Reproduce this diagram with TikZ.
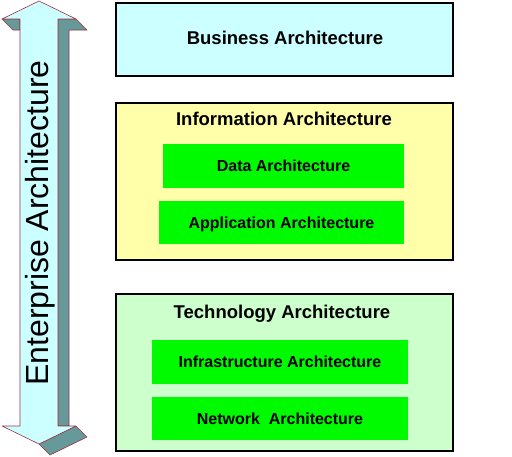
\documentclass[tikz,border=0pt]{standalone}
\usepackage{fontspec}
\setmainfont{Liberation Sans}
\usetikzlibrary{positioning}
\definecolor{bizfill}{HTML}{CCFFFF}
\definecolor{infofill}{HTML}{FFFFAA}
\definecolor{techfill}{HTML}{CCFFCC}
\definecolor{boxgreen}{HTML}{00FA00}
\definecolor{arrfront}{HTML}{CCFFFF}
\definecolor{arrside}{HTML}{669999}
\definecolor{arredge}{HTML}{993344}
\begin{document}
\begin{tikzpicture}[x=1pt,y=-1pt,
   outer/.style={rectangle,draw=black,line width=2pt,inner sep=0pt},
   inner/.style={rectangle,fill=boxgreen,inner sep=0pt,text height=11.5pt,text depth=0pt,
     font=\fontsize{16}{19}\bfseries},
   ttl/.style={anchor=base,inner sep=0pt,font=\fontsize{18.5}{22}\bfseries},
   side/.style={fill=arrside,draw=arredge,line width=0.6pt,line join=round},
   front/.style={fill=arrfront,draw=arredge,line width=0.6pt,line join=round}]
  \useasboundingbox (0,0) rectangle (512,456);
  % enterprise double arrow
  \draw[side] (2,19) -- (20,19) -- (20,30) -- (13,30) -- cycle;
  \draw[side] (58,19) -- (76,19) -- (87,30) -- (69,30) -- (69,426) -- (58,426) -- cycle;
  \draw[side] (76,426) -- (87,437) -- (50,455) -- (39,444) -- cycle;
  \draw[front] (39,1) -- (76,19) -- (58,19) -- (58,426) -- (76,426) -- (39,444)
     -- (2,426) -- (20,426) -- (20,19) -- (2,19) -- cycle;
  \node[rotate=90,anchor=base,inner sep=0pt,font=\fontsize{32}{36}\selectfont] (ea) at (48,223)
     {Enterprise Architecture};
  % layers
  \node[outer,fill=bizfill,minimum width=337pt,minimum height=73pt] (biz) at (284.5,39.5) {};
  \node[ttl] (bizt) at (285,44) {Business Architecture};
  \node[outer,fill=infofill,minimum width=337pt,minimum height=157pt] (info) at (284.5,181.5) {};
  \node[ttl] (infot) at (284,125) {Information Architecture};
  \node[inner,minimum width=241pt,minimum height=44pt] (data) at (283.5,166) {Data Architecture};
  \node[inner,minimum width=245pt,minimum height=43pt] (app) at (281.5,222.5) {Application Architecture};
  \node[outer,fill=techfill,minimum width=337pt,minimum height=157pt] (tech) at (284.5,372.5) {};
  \node[ttl] (techt) at (282,318) {Technology Architecture};
  \node[inner,minimum width=256pt,minimum height=44pt] (infra) at (280,362) {Infrastructure Architecture};
  \node[inner,minimum width=256pt,minimum height=43pt] (net) at (280,418.5) {Network\ \ Architecture};
\end{tikzpicture}
\end{document}
